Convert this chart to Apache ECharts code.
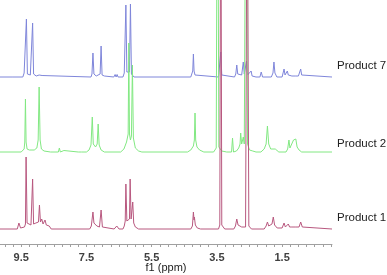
<!DOCTYPE html>
<html>
<head>
<meta charset="utf-8">
<script src="https://cdn.jsdelivr.net/npm/echarts@6/dist/echarts.min.js"></script>
<style>
html,body{margin:0;padding:0;background:#fff;}
#chart{width:387px;height:275px;}
</style>
</head>
<body>
<div id="chart"></div>
<script>
// ---- Data: [chemical shift (ppm), intensity] ----
const seriesNames = ['Product 7', 'Product 2', 'Product 1'];
const tickLabels = [9.5, 7.5, 5.5, 3.5, 1.5];
const minorTicks = [0,0.25,0.5,0.75,1,1.25,1.5,1.75,2,2.25,2.5,2.75,3,3.25,3.5,3.75,4,4.25,4.5,4.75,5,5.25,5.5,5.75,6,6.25,6.5,6.75,7,7.25,7.5,7.75,8,8.25,8.5,8.75,9,9.25,9.5,9.75,10];

const product7 = [
  [10.15,0],[9.78,0],[9.75,1],[9.72,0],
  [9.45,0],[9.41,4],[9.38,3],[9.34,58],[9.31,3],[9.28,2],[9.26,5],[9.22,2],[9.18,3],[9.15,54],[9.12,3],[9.08,3],[9.04,1],[8.99,0],[8.95,2],[8.91,0],[8.86,1.5],[8.82,0],
  [7.36,0],[7.33,3],[7.30,24],[7.27,3],[7.24,2],[7.2,1],[7.08,3],[7.05,31],[7.02,2],[6.95,1],[6.9,0],
  [6.66,0],[6.62,2.5],[6.59,0],[6.56,2.5],[6.53,0],
  [6.38,0],[6.34,4],[6.31,5],[6.29,72],[6.26,5],[6.22,4],[6.18,5],[6.15,73],[6.12,3],[6.08,2],[6.04,0],
  [4.3,0],[4.26,2],[4.24,6],[4.22,23],[4.20,6],[4.17,2],[4.13,0],
  [3.45,0],[3.41,2],[3.38,25],[3.35,2],[3.3,0],
  [2.96,0],[2.92,3],[2.89,12],[2.86,3],[2.82,1],[2.74,2],[2.72,4],[2.69,15],[2.66,3],[2.62,3],[2.59,16],[2.56,2],[2.5,1],[2.45,6],[2.42,1],[2.3,0],
  [2.18,0],[2.14,5],[2.1,0],
  [1.83,0],[1.78,4],[1.75,15],[1.72,4],[1.66,0],
  [1.5,0],[1.47,2],[1.44,8],[1.41,2],[1.37,2],[1.34,6],[1.31,2],[1.2,1],[1.15,3],[1.1,1],[1.0,1],[0.96,2],[0.93,8],[0.9,2],[0.85,0],
  [-0.03,0]
];

const product2 = [
  [10.15,0],[9.5,0],[9.45,1],[9.41,3],[9.39,10],[9.37,53],[9.35,10],[9.32,3],[9.25,2],[9.1,2],[9.02,4],[8.98,12],[8.95,65],[8.92,12],[8.88,3],[8.8,1],[8.6,0],
  [8.36,0],[8.33,4],[8.30,0],[8.19,1.5],[8.15,0],
  [7.75,0],[7.7,1],[7.65,0],
  [7.5,0],[7.42,2],[7.36,7],[7.32,35],[7.29,8],[7.27,6],[7.22,5],[7.17,8],[7.14,28],[7.11,7],[7.05,2],[6.95,0],
  [6.45,0],[6.35,3],[6.27,10],[6.22,18],[6.20,109],[6.18,18],[6.15,12],[6.12,16],[6.09,87],[6.06,14],[6.0,4],[5.9,1],[5.8,0],
  [4.4,0],[4.3,2],[4.22,6],[4.19,12],[4.17,39],[4.15,12],[4.11,5],[4.03,2],[3.9,0],
  [3.6,0],[3.52,4],[3.48,400],[3.44,5],[3.35,1],[3.2,0],
  [3.05,0],[3.02,14],[2.99,0],
  [2.9,1],[2.83,4],[2.79,8],[2.77,19],[2.74,8],[2.72,8],[2.69,15],[2.66,8],[2.63,7],[2.60,400],[2.56,8],[2.5,2],[2.4,1],[2.3,0],
  [2.15,0],[2.05,3],[1.99,8],[1.95,26],[1.91,8],[1.85,3],[1.71,3],[1.6,0],
  [1.38,0],[1.33,3],[1.29,12],[1.26,4],[1.2,6],[1.15,12],[1.12,11],[1.08,13],[1.04,5],[0.98,2],[0.9,0],
  [-0.03,0]
];

const product1 = [
  [10.15,0],[9.62,0],[9.57,6],[9.52,1],[9.4,2],[9.37,5],[9.35,72],[9.32,6],[9.26,7],[9.2,4],[9.17,5],[9.15,50],[9.12,5],[9.05,6],[9.0,5],[8.97,7],[8.94,24],[8.91,7],[8.87,10],[8.83,5],[8.77,9],[8.73,4],[8.67,6],[8.64,3],[8.62,4],[8.58,0],
  [7.4,0],[7.35,3],[7.30,17],[7.27,6],[7.22,8],[7.18,3],[7.1,2],[7.05,19],[7.01,2],[6.95,0],
  [6.65,0],[6.57,3],[6.5,0],
  [6.38,0],[6.34,3],[6.31,8],[6.29,45],[6.26,8],[6.22,9],[6.18,10],[6.16,50],[6.13,10],[6.10,9],[6.08,27],[6.05,6],[6.0,2],[5.9,0],
  [4.3,0],[4.25,3],[4.22,17],[4.20,9],[4.19,12],[4.16,4],[4.1,1],[4.0,0],
  [3.45,0],[3.41,4],[3.38,400],[3.35,4],[3.30,4],[3.26,0],
  [2.98,0],[2.93,3],[2.89,10],[2.85,4],[2.79,6],[2.74,2],[2.62,2],[2.57,400],[2.52,3],[2.48,3],[2.44,0],
  [2.05,0],[1.99,3],[1.95,7],[1.91,3],[1.85,4],[1.81,5],[1.77,12],[1.73,4],[1.65,1],
  [1.5,1],[1.44,6],[1.4,2],[1.35,3],[1.31,5],[1.27,2],[1.2,2],[1.15,4],[1.1,2],[0.98,2],[0.93,7],[0.88,2],[0.82,0],
  [-0.03,0]
];

// ---- Layout / style ----
const spectra = [product7, product2, product1];
const offsets = [167, 92, 15];               // vertical stacking offsets (intensity units)
const colors = ['#7f86da', '#82e882', '#b8587f'];
const labelTops = [60, 138, 212];

const chart = echarts.init(document.getElementById('chart'), null, {renderer: 'canvas'});

const series = spectra.map((d, i) => ({
  name: seriesNames[i],
  type: 'line',
  data: d.map(p => [p[0], p[1] + offsets[i]]),
  showSymbol: false,
  symbol: 'none',
  clip: true,
  lineStyle: {color: colors[i], width: 1},
  animation: false,
  z: 2 + i
}));

chart.setOption({
  backgroundColor: '#fff',
  animation: false,
  grid: {left: 0, right: 55, top: 0, bottom: 31, containLabel: false, outerBoundsMode: 'none'},
  xAxis: {
    type: 'value',
    inverse: true,
    min: -0.03,
    max: 10.15,
    name: 'f1 (ppm)',
    nameLocation: 'middle',
    nameGap: 18,
    nameMoveOverlap: false,
    nameTextStyle: {fontFamily: 'Liberation Sans', fontSize: 11, color: '#222'},
    axisLine: {lineStyle: {color: '#a0a0a0', width: 1}},
    axisTick: {show: true, customValues: minorTicks, length: 3, lineStyle: {color: '#a0a0a0'}},
    axisLabel: {customValues: tickLabels, formatter: v => v.toFixed(1), fontFamily: 'Liberation Sans', fontSize: 11, fontWeight: 'bold', color: '#404040', margin: 8},
    splitLine: {show: false}
  },
  yAxis: {type: 'value', min: 0, max: 244, show: false, splitLine: {show: false}},
  graphic: seriesNames.map((n, i) => ({
    type: 'text', left: 337, top: labelTops[i],
    style: {text: n, font: '11.5px "Liberation Sans"', fill: '#222'}
  })),
  series: series
});
</script>
</body>
</html>
